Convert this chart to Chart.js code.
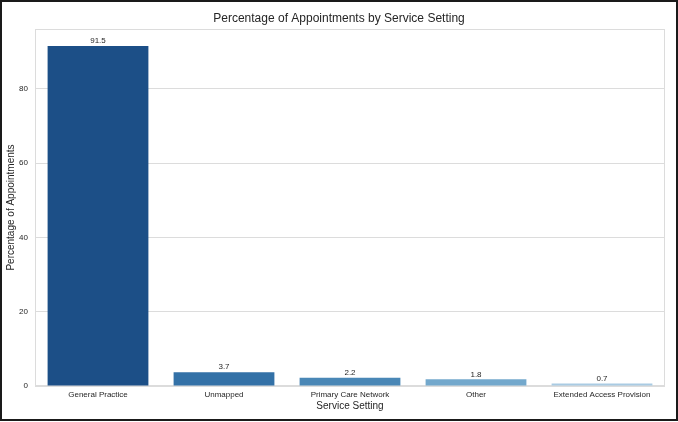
<!DOCTYPE html>
<html>
<head>
<meta charset="utf-8">
<script src="https://cdn.jsdelivr.net/npm/chart.js@4"></script>
<style>
    html, body { margin: 0; padding: 0; background: #fff; }
    #wrap { position: relative; width: 678px; height: 422px; }
    #frame { position: absolute; left: 0; top: 0; width: 674px; height: 417px; border: 2px solid #1a1a1a; pointer-events: none; }
</style>
</head>
<body>
<div id="wrap">
    <canvas id="chart" width="678" height="422"></canvas>
    <div id="frame"></div>
</div>
<script>
const settings = ['General Practice', 'Unmapped', 'Primary Care Network', 'Other', 'Extended Access Provision'];
const percentages = [91.5, 3.7, 2.2, 1.8, 0.7];
const barColors = ['#1c4f87', '#3371a7', '#4a87b6', '#73a8cc', '#a9cbe3'];
const yTicks = [0, 20, 40, 60, 80];
const chartTitle = 'Percentage of Appointments by Service Setting';

const FONT = '"Liberation Sans", Arial, sans-serif';

// 제목, 막대 위 값, 플롯 테두리 그리기
const extras = {
    id: 'extras',
    beforeDatasetsDraw(chart) {
        const a = chart.chartArea;
        const ctx = chart.ctx;
        ctx.save();
        ctx.strokeStyle = '#dcdcdc';
        ctx.lineWidth = 1;
        ctx.strokeRect(a.left + 0.5, a.top + 0.5, a.right - a.left - 1, a.bottom - a.top - 1);
        ctx.restore();
    },
    afterDatasetsDraw(chart) {
        const ctx = chart.ctx;
        const meta = chart.getDatasetMeta(0);
        ctx.save();
        ctx.font = '8px ' + FONT;
        ctx.fillStyle = '#262626';
        ctx.textAlign = 'center';
        ctx.textBaseline = 'bottom';
        meta.data.forEach((bar, i) => {
            ctx.fillText(percentages[i].toFixed(1), bar.x, bar.y - 1);
        });
        ctx.font = '12px ' + FONT;
        ctx.textBaseline = 'middle';
        ctx.fillText(chartTitle, chart.width / 2, 19);
        ctx.restore();
    }
};

new Chart(document.getElementById('chart').getContext('2d'), {
    type: 'bar',
    data: {
        labels: settings,
        datasets: [{
            data: percentages,
            backgroundColor: barColors,
            borderWidth: 0,
            barPercentage: 0.8,
            categoryPercentage: 1.0
        }]
    },
    options: {
        responsive: false,
        animation: false,
        events: [],
        layout: { padding: { left: 0, right: 13, top: 29, bottom: 0 } },
        plugins: {
            legend: { display: false },
            tooltip: { enabled: false },
            title: { display: false }
        },
        scales: {
            x: {
                offset: true,
                grid: { display: false, drawTicks: false },
                border: { display: false },
                ticks: {
                    color: '#262626',
                    padding: 4,
                    font: { family: FONT, size: 8 }
                },
                title: {
                    display: true,
                    text: 'Service Setting',
                    color: '#262626',
                    padding: { top: 0, bottom: 10 },
                    font: { family: FONT, size: 10 }
                },
                afterFit(axis) { axis.height = 36; }
            },
            y: {
                min: 0,
                max: 96.1,
                grid: { color: '#dcdcdc', lineWidth: 1, drawTicks: false },
                border: { display: false },
                afterBuildTicks(axis) { axis.ticks = yTicks.map(v => ({ value: v })); },
                ticks: {
                    color: '#262626',
                    padding: 7,
                    font: { family: FONT, size: 8 }
                },
                title: {
                    display: true,
                    text: 'Percentage of Appointments',
                    color: '#262626',
                    padding: { top: 5, bottom: 0 },
                    font: { family: FONT, size: 10 }
                },
                afterFit(axis) { axis.width = 35; }
            }
        }
    },
    plugins: [extras]
});
</script>
</body>
</html>
